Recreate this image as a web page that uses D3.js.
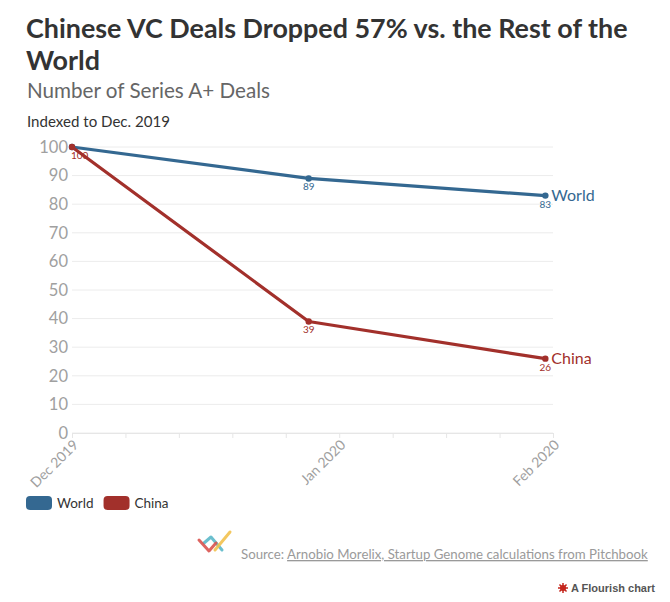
<!DOCTYPE html>
<html>
<head>
<meta charset="utf-8">
<script src="https://cdn.jsdelivr.net/npm/d3@7"></script>
<style>
  html, body { margin: 0; padding: 0; background: #fff; }
  svg { display: block; }
</style>
</head>
<body>
<svg id="chart" width="670" height="602"></svg>
<script>
// ---- data ----
const dates = ["2019-12-01", "2020-01-01", "2020-02-01"];
const seriesNames = ["World", "China"];
const worldValues = [100, 89, 83];
const chinaValues = [100, 39, 26];
const yTicks = [0, 10, 20, 30, 40, 50, 60, 70, 80, 90, 100];
const xTickLabels = { "2019-12-01": "Dec 2019", "2020-01-05": "Jan 2020", "2020-02-02": "Feb 2020" };
const colors = { World: "#346891", China: "#a2302b" };

const parse = d3.timeParse("%Y-%m-%d");
const fmt = d3.timeFormat("%Y-%m-%d");
const series = [
  { name: "World", values: worldValues, labelFirst: false },
  { name: "China", values: chinaValues, labelFirst: true }
];

const svg = d3.select("#chart");
const FONT = "Lato, 'Source Sans Pro', 'Noto Sans', sans-serif";

// ---- header ----
function fitText(sel, target) {
  const w = sel.node().getComputedTextLength();
  const fs = parseFloat(sel.attr("font-size"));
  sel.attr("font-size", (fs * target / w).toFixed(2));
}
const t1 = svg.append("text").attr("x", 26).attr("y", 38).attr("font-family", FONT)
  .attr("font-weight", 700).attr("font-size", 28).attr("fill", "#333")
  .text("Chinese VC Deals Dropped 57% vs. the Rest of the");
fitText(t1, 602);
const fsTitle = t1.attr("font-size");
svg.append("text").attr("x", 26).attr("y", 70).attr("font-family", FONT)
  .attr("font-weight", 700).attr("font-size", fsTitle).attr("fill", "#333").text("World");
const st = svg.append("text").attr("x", 27).attr("y", 98).attr("font-family", FONT)
  .attr("font-size", 22).attr("fill", "#666").text("Number of Series A+ Deals");
fitText(st, 243);
const st2 = svg.append("text").attr("x", 27).attr("y", 127).attr("font-family", FONT)
  .attr("font-size", 15).attr("fill", "#333").text("Indexed to Dec. 2019");
fitText(st2, 143);

// ---- scales ----
const x = d3.scaleTime().domain([parse("2019-12-01"), parse("2020-02-02")]).range([72, 553]);
const y = d3.scaleLinear().domain([0, 100]).range([433, 147]);

// gridlines
svg.append("g").selectAll("line").data(yTicks).join("line")
  .attr("x1", x.range()[0]).attr("x2", x.range()[1])
  .attr("y1", d => y(d)).attr("y2", d => y(d))
  .attr("stroke", "#ececec").attr("stroke-width", 1);

// y axis labels
const yAxis = d3.axisLeft(y).tickValues(yTicks).tickSize(0).tickPadding(4);
const gy = svg.append("g").attr("transform", `translate(${x.range()[0]},0)`).call(yAxis);
gy.select(".domain").remove();
gy.selectAll("text").attr("font-family", FONT).attr("font-size", 16.5).attr("fill", "#a0a0a0");

// x axis
const weekTicks = d3.timeWeek.range(parse("2019-12-01"), d3.timeDay.offset(parse("2020-02-02"), 1));
const xAxis = d3.axisBottom(x).tickValues(weekTicks).tickSize(5).tickPadding(4)
  .tickFormat(d => xTickLabels[fmt(d)] || "");
const gx = svg.append("g").attr("transform", `translate(0,${y(0)})`).call(xAxis);
gx.select(".domain").attr("stroke", "#e6e6e6");
gx.selectAll(".tick line").attr("stroke", "#e6e6e6");
gx.selectAll("text").attr("font-family", FONT).attr("font-size", 14).attr("fill", "#a0a0a0")
  .attr("text-anchor", "end").attr("transform", "rotate(-45)").attr("dx", "-0.3em").attr("dy", "0.55em").attr("y", 6);

// lines
const line = d3.line().x((d, i) => x(parse(dates[i]))).y(d => y(d));
series.forEach(s => {
  const c = colors[s.name];
  svg.append("path").datum(s.values).attr("d", line).attr("fill", "none")
    .attr("stroke", c).attr("stroke-width", 3.2).attr("stroke-linejoin", "round");
});
series.forEach(s => {
  const c = colors[s.name];
  const g = svg.append("g");
  g.selectAll("circle").data(s.values).join("circle")
    .attr("cx", (d, i) => x(parse(dates[i]))).attr("cy", d => y(d)).attr("r", 3.2).attr("fill", c);
  g.selectAll("text.val").data(s.values.map((v, i) => ({ v, i })).filter(d => d.i > 0 || s.labelFirst))
    .join("text").attr("class", "val")
    .attr("x", d => d.i === 0 ? x(parse(dates[0])) - 1 : x(parse(dates[d.i])))
    .attr("y", d => y(d.v) + 12)
    .attr("text-anchor", d => d.i === 0 ? "start" : "middle")
    .attr("font-family", FONT).attr("font-size", 10).attr("fill", c).text(d => d.v);
  const last = s.values.length - 1;
  svg.append("text").attr("x", x(parse(dates[last])) + 6).attr("y", y(s.values[last]) + 5)
    .attr("font-family", FONT).attr("font-size", 16).attr("fill", c).text(s.name);
});

// legend
const lg = svg.append("g").attr("transform", "translate(26,496)");
let lx = 0;
seriesNames.forEach(n => {
  lg.append("rect").attr("x", lx).attr("y", 0).attr("width", 26).attr("height", 14).attr("rx", 4)
    .attr("fill", colors[n]);
  const t = lg.append("text").attr("x", lx + 31).attr("y", 12).attr("font-family", FONT)
    .attr("font-size", 13.5).attr("fill", "#333").text(n);
  lx += 31 + t.node().getComputedTextLength() + 10;
});

// footer: Flourish-style logo
const logo = svg.append("g");
const lgStroke = (d, c) => logo.append("path").attr("d", d).attr("fill", "none").attr("stroke", c)
  .attr("stroke-width", 3).attr("stroke-linecap", "round").attr("stroke-linejoin", "round").attr("opacity", 0.9);
lgStroke("M204,543 L211,537 L222,550", "#5bb8c9");
lgStroke("M215,550 L230,532", "#f2c14e");
lgStroke("M199,540 L209,551 L216,543", "#d9534f");

const src = svg.append("text").attr("x", 241).attr("y", 559).attr("font-family", FONT)
  .attr("font-size", 13.5).attr("fill", "#9a9a9a");
src.append("tspan").text("Source: ");
src.append("tspan").attr("text-decoration", "underline")
  .text("Arnobio Morelix, Startup Genome calculations from Pitchbook");
fitText(src, 407);

// Flourish badge
const badge = svg.append("g").attr("transform", "translate(563,588)");
for (let k = 0; k < 8; k++) {
  const a = k * Math.PI / 4;
  badge.append("line").attr("x1", 0).attr("y1", 0).attr("x2", 5 * Math.cos(a)).attr("y2", 5 * Math.sin(a))
    .attr("stroke", "#c4261d").attr("stroke-width", 1.5);
}
badge.append("circle").attr("r", 3).attr("fill", "#c4261d");
svg.append("text").attr("x", 571).attr("y", 592).attr("font-family", "Liberation Sans, Arial, sans-serif")
  .attr("font-weight", 700).attr("font-size", 11).attr("fill", "#555").text("A Flourish chart");
</script>
</body>
</html>
